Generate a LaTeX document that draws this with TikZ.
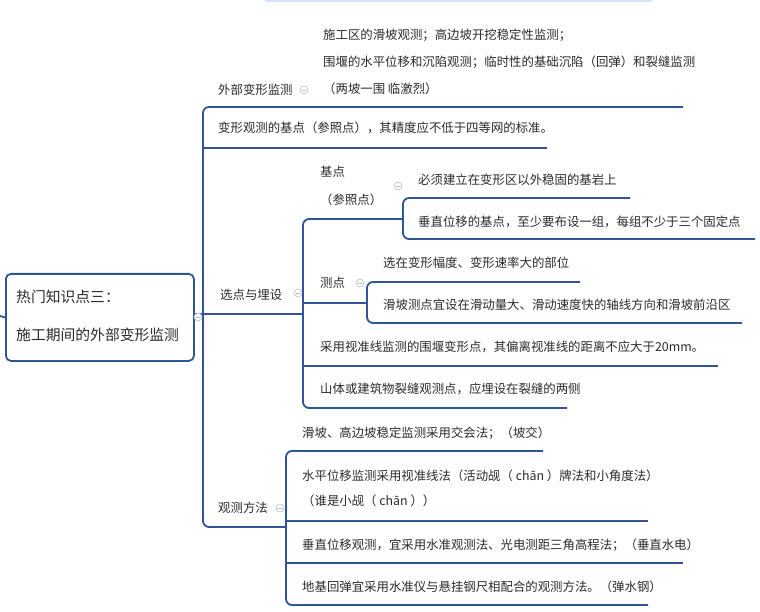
\documentclass[tikz,border=0pt]{standalone}
\usepackage{fontspec}
\setmainfont{Noto Sans CJK SC}
\definecolor{branch}{HTML}{2E5597}
\definecolor{txtc}{HTML}{2A2A2A}
\definecolor{topbar}{HTML}{D5E3F7}
\definecolor{foldc}{HTML}{B8BCC4}
\begin{document}
\begin{tikzpicture}[x=1pt,y=-1pt,
  txt/.style={anchor=west, inner sep=0pt, text=txtc, align=left, font=\fontsize{12.4}{14}\selectfont},
  ln/.style={draw=branch, line width=1.8pt, rounded corners=6pt},
  fold/.style={circle, draw=foldc, fill=white, minimum size=8pt, inner sep=0pt, line width=0.6pt,
    path picture={\draw[foldc, line width=0.7pt] ([xshift=-2.2pt]path picture bounding box.center) -- ([xshift=2.2pt]path picture bounding box.center);}},
  rootbox/.style={draw=branch, line width=1.8pt, rounded corners=5pt, anchor=north west, minimum width=188pt, minimum height=87pt, inner sep=0pt}]
\useasboundingbox (0,0) rectangle (760,612);

% top bar (cut-off element)
\coordinate (tb1) at (265,1);
\coordinate (tb2) at (652,1);
\draw[topbar, line width=3pt] (tb1) -- (tb2);

% root
\node[rootbox] (root) at (5,273) {};
\node[txt, font=\fontsize{14.8}{38}\selectfont] (roottxt) at (16,316) {热门知识点三：\\施工期间的外部变形监测};
\coordinate (stub) at (0,316);
\draw[ln] (stub) -- (root.west);

% level 1 texts
\node[txt] (wb) at (218,90) {外部变形监测};
\node[txt, font=\fontsize{12.4}{27}\selectfont] (wbc) at (323,62) {施工区的滑坡观测；高边坡开挖稳定性监测；\\围堰的水平位移和沉陷观测；临时性的基础沉陷（回弹）和裂缝监测\\（两坡一围 临激烈）};
\node[txt] (jd0) at (218,128) {变形观测的基点（参照点），其精度应不低于四等网的标准。};
\node[txt] (xd) at (220,295) {选点与埋设};
\node[txt] (gc) at (218,508) {观测方法};

% level 2 under 选点与埋设
\node[txt, font=\fontsize{12.4}{28}\selectfont] (jd) at (320,186) {基点\\（参照点）};
\node[txt] (jd1) at (418,180) {必须建立在变形区以外稳固的基岩上};
\node[txt] (jd2) at (418,222) {垂直位移的基点，至少要布设一组，每组不少于三个固定点};
\node[txt] (cd) at (320,283) {测点};
\node[txt] (cd1) at (383,263) {选在变形幅度、变形速率大的部位};
\node[txt] (cd2) at (383,305) {滑坡测点宜设在滑动量大、滑动速度快的轴线方向和滑坡前沿区};
\node[txt] (sz) at (320,347) {采用视准线监测的围堰变形点，其偏离视准线的距离不应大于20mm。};
\node[txt] (sf) at (320,389) {山体或建筑物裂缝观测点，应埋设在裂缝的两侧};

% level 2 under 观测方法
\node[txt] (gc1) at (302,433) {滑坡、高边坡稳定监测采用交会法；（坡交）};
\node[txt, font=\fontsize{12.4}{25}\selectfont] (gc2) at (302,488.5) {水平位移监测采用视准线法（活动觇（ chān ）牌法和小角度法）\\（谁是小觇（ chān ））};
\node[txt] (gc3) at (302,545) {垂直位移观测，宜采用水准观测法、光电测距三角高程法；（垂直水电）};
\node[txt] (gc4) at (302,587) {地基回弹宜采用水准仪与悬挂钢尺相配合的观测方法。（弹水钢）};

% branch coordinates
\coordinate (rE) at (root.east |- 0,314);
\coordinate (t1) at (683,107);
\coordinate (t2) at (203,107);
\coordinate (t3) at (203,527);
\coordinate (t4) at (286,527);
\coordinate (u0a) at (203,148);
\coordinate (u0b) at (547,148);
\coordinate (xdL) at (203,314);
\coordinate (xdR) at (303,314);

\coordinate (s1) at (403,219);
\coordinate (s2) at (303,219);
\coordinate (s3) at (303,408);
\coordinate (s4) at (567,408);
\coordinate (cdL) at (303,303);
\coordinate (cdR) at (367,303);
\coordinate (szL) at (303,366);
\coordinate (szR) at (718,366);

\coordinate (j1) at (630,198);
\coordinate (j2) at (403,198);
\coordinate (j3) at (403,239);
\coordinate (j4) at (755,239);

\coordinate (c1) at (580,282);
\coordinate (c2) at (367,282);
\coordinate (c3) at (367,323);
\coordinate (c4) at (742,323);

\coordinate (g1) at (543,451);
\coordinate (g2) at (286,451);
\coordinate (g3) at (286,605);
\coordinate (g4) at (648,605);
\coordinate (g2L) at (286,521);
\coordinate (g2R) at (648,521);
\coordinate (g3L) at (286,563);
\coordinate (g3R) at (683,563);

% connectors
\draw[ln] (t1) -- (t2) -- (t3) -- (t4);
\draw[ln] (u0a) -- (u0b);
\draw[ln] (rE) -- (xdL) -- (xdR);
\draw[ln] (s1) -- (s2) -- (s3) -- (s4);
\draw[ln] (cdL) -- (cdR);
\draw[ln] (szL) -- (szR);
\draw[ln] (j1) -- (j2) -- (j3) -- (j4);
\draw[ln] (c1) -- (c2) -- (c3) -- (c4);
\draw[ln] (g1) -- (g2) -- (g3) -- (g4);
\draw[ln] (g2L) -- (g2R);
\draw[ln] (g3L) -- (g3R);

% fold markers
\node[fold] (f0) at (198,317) {};
\node[fold] (f1) at (304,90) {};
\node[fold] (f2) at (298,293) {};
\node[fold] (f3) at (398,186) {};
\node[fold] (f4) at (360,283) {};
\node[fold] (f5) at (280,508) {};
\end{tikzpicture}
\end{document}
